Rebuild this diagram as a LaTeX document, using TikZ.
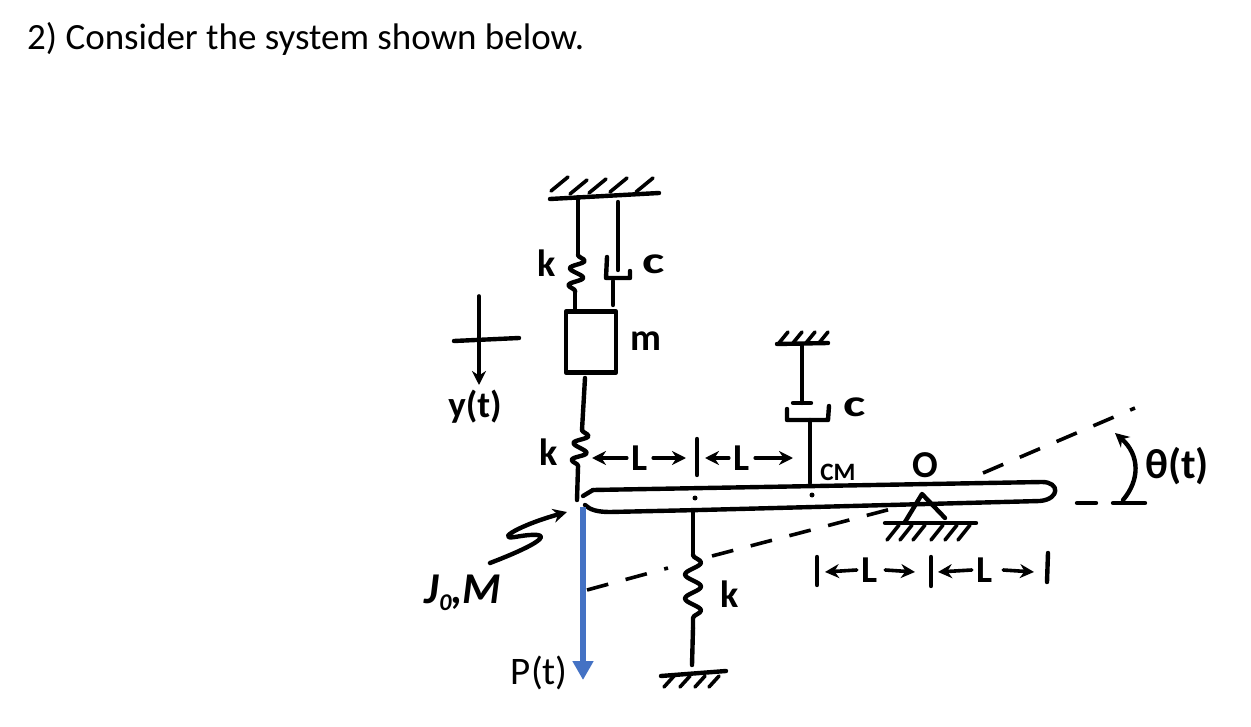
\documentclass[tikz,border=0pt]{standalone}
\usepackage{fontspec}
\setmainfont{Carlito}
\usetikzlibrary{arrows.meta, decorations.pathmorphing}
\definecolor{forceblue}{HTML}{4472C4}
\tikzstyle{wire} = [line width=4.4pt, line cap=round, line join=round, black]
\tikzstyle{thin wire} = [line width=3.6pt, line cap=round, line join=round, black]
\tikzstyle{spring} = [wire, decorate, decoration={snake, segment length=17pt, amplitude=7pt}]
\tikzstyle{long spring} = [wire, decorate, decoration={snake, segment length=24pt, amplitude=8pt}]
\tikzstyle{arrow} = [thin wire, -{Stealth[length=14pt, width=14pt]}]
\tikzstyle{dash line} = [thin wire, line cap=butt, dash pattern=on 22pt off 18pt]
\tikzstyle{force} = [line width=6pt, forceblue, -{Triangle[length=19pt, width=20pt]}]
\tikzstyle{hand} = [inner sep=0pt, font=\fontsize{38}{38}\selectfont\bfseries]
\tikzstyle{wide hand} = [hand, xscale=1.4]
\tikzstyle{small hand} = [inner sep=0pt, font=\fontsize{25}{25}\selectfont\bfseries]

\begin{document}
\begin{tikzpicture}[x=1pt, y=-1pt]
		\useasboundingbox (0,0) rectangle (1251,727);
		\node [inner sep=0pt, anchor=west, font=\fontsize{37}{37}\selectfont] (title) at (27,39) {2) Consider the system shown below.};
		
		% upper mass with spring and damper
		\coordinate (wallA1) at (550,199);
		\coordinate (wallA2) at (659,193);
		\draw [wire] (wallA1)--(wallA2);
		\foreach \x/\y in {551/191, 570/194, 589/193, 610/192, 636/192}
			\draw [thin wire] (\x,\y)--++(17,-14);
		\node [draw, wire, inner sep=0pt, minimum width=50pt, minimum height=61pt] (mass) at (591,342) {};
		\coordinate (springA1) at (578,197);
		\coordinate (springA2) at (578,255);
		\coordinate (springA3) at (575,292);
		\coordinate (springA4) at (575,311);
		\draw [wire] (springA1)--(springA2);
		\draw [spring] (springA2)--(springA3);
		\draw [wire] (springA3)--(springA4);
		\coordinate (rodA1) at (618,202);
		\coordinate (rodA2) at (618,270);
		\coordinate (rodA3) at (613,281);
		\coordinate (rodA4) at (613,305);
		\draw [wire] (rodA1)--(rodA2);
		\draw [wire] (607,257)--(606,278)--(630,278)--(630,271);
		\draw [wire] (rodA3)--(rodA4);
		\node [hand] (kA) at (547,263) {k};
		\node [wide hand] (cA) at (654,264) {c};
		\node [hand] (mA) at (646,341) {m};
		
		% y(t) sign
		\coordinate (yTop) at (479,296);
		\coordinate (yEnd) at (479,385);
		\draw [wire] (454,341)--(519,338);
		\draw [arrow] (yTop)--(yEnd);
		\node [hand, font=\fontsize{37}{37}\selectfont\bfseries] (yLabel) at (475,407) {y(t)};
		
		% spring between mass and beam
		\coordinate (springB1) at (585,378);
		\coordinate (springB2) at (582,430);
		\coordinate (springB3) at (578,467);
		\coordinate (springB4) at (577,500);
		\draw [wire] (springB1)--(springB2);
		\draw [spring] (springB2)--(springB3);
		\draw [wire] (springB3)--(springB4);
		\node [hand] (kB) at (549,452) {k};
		
		% beam
		\coordinate (beamA) at (593,490);
		\coordinate (beamB) at (1042,482);
		\coordinate (beamC) at (1040,501);
		\coordinate (beamD) at (585,505);
		\draw [wire] (beamA)--(beamB) .. controls (1060,482) and (1060,499) .. (beamC)
			-- (700,510) -- (610,512) .. controls (598,512) and (590,510) .. (beamD);
		\draw [wire] (beamA)--(583,496);
		\fill (695,498) circle (2.5pt);
		\fill (812,495) circle (2.5pt);
		
		% load
		\coordinate (loadA) at (583,507);
		\coordinate (loadB) at (583,680);
		\draw [force] (loadA)--(loadB);
		\node [inner sep=0pt, anchor=east, font=\fontsize{39}{39}\selectfont] (loadLabel) at (568,673) {P(t)};
		
		% inertia label
		\node [hand, font=\fontsize{44}{44}\selectfont\bfseries\itshape] (inertia) at (463,593) {J\raisebox{-7pt}{\fontsize{24}{24}\selectfont 0},M};
		\coordinate (curlA) at (490,563);
		\coordinate (curlB) at (567,512);
		\draw [arrow, line width=4.4pt] (curlA) .. controls (550,540) and (555,530) .. (515,537) .. controls (495,540) and (520,525) .. (curlB);
		
		% lower spring
		\coordinate (springC1) at (693,512);
		\coordinate (springC2) at (693,555);
		\coordinate (springC3) at (693,628);
		\coordinate (springC4) at (692,665);
		\draw [wire] (springC1)--(springC2);
		\draw [long spring] (springC2)--(springC3);
		\draw [wire] (springC3)--(springC4);
		\node [hand] (kC) at (730,594) {k};
		\coordinate (groundA1) at (661,676);
		\coordinate (groundA2) at (726,671);
		\draw [wire] (groundA1)--(groundA2);
		\foreach \x in {664, 680, 695, 709}
			\draw [thin wire] (\x,687)--++(10,-11);
		
		% damper on beam
		\coordinate (wallB1) at (777,344);
		\coordinate (wallB2) at (828,343);
		\draw [wire] (wallB1)--(wallB2);
		\foreach \x in {779, 793, 806, 819}
			\draw [thin wire] (\x,343)--++(9,-11);
		\coordinate (rodB1) at (802,345);
		\coordinate (rodB2) at (802,403);
		\coordinate (rodB3) at (810,420);
		\coordinate (rodB4) at (810,483);
		\draw [wire] (rodB1)--(rodB2);
		\draw [wire] (793,403)--(811,403);
		\draw [wire] (787,409)--(787,420)--(828,420)--(829,406);
		\draw [wire] (rodB3)--(rodB4);
		\node [wide hand] (cB) at (855,407) {c};
		\node [small hand] (cmLabel) at (838,472) {CM};
		
		% pivot
		\coordinate (pivotA) at (922,494);
		\coordinate (pivotB) at (905,522);
		\coordinate (pivotC) at (945,518);
		\draw [wire] (pivotB)--(pivotA)--(pivotC);
		\coordinate (groundB1) at (885,523);
		\coordinate (groundB2) at (976,523);
		\draw [wire] (groundB1)--(groundB2);
		\foreach \x in {887, 900, 913, 931, 945, 958}
			\draw [thin wire] (\x,540)--++(12,-15);
		\node [hand] (pivotLabel) at (925,465) {O};
		
		% dashed rotated beam and reference line
		\coordinate (dashA) at (587,590);
		\coordinate (dashA2) at (668,568);
		\coordinate (dashA3) at (712,556);
		\coordinate (dashB) at (895,508);
		\coordinate (dashC) at (983,473);
		\coordinate (dashD) at (1135,408);
		\coordinate (dashE) at (1077,503);
		\coordinate (dashF) at (1145,503);
		\draw [dash line] (dashA)--(dashA2);
		\draw [dash line] (dashA3)--(dashB);
		\draw [dash line] (dashC)--(dashD);
		\draw [wire] (dashE)--(1096,503);
		\draw [wire] (1113,503)--(dashF);
		
		% angle
		\coordinate (angleA) at (1123,500);
		\coordinate (angleB) at (1115,433);
		\draw [arrow, line width=4.4pt] (angleA) .. controls (1140,480) and (1140,455) .. (angleB);
		\node [hand, anchor=west, font=\fontsize{42}{42}\selectfont\bfseries] (angleLabel) at (1145,466) {θ(t)};
		
		% dimensions above beam
		\coordinate (dimA) at (592,458);
		\coordinate (dimB) at (686,458);
		\coordinate (dimC) at (705,458);
		\coordinate (dimD) at (793,458);
		\node [hand] (lenA) at (640,458) {L};
		\node [hand] (lenB) at (742,458) {L};
		\draw [arrow] (lenA.west)+(-5,0)--(dimA);
		\draw [arrow] (lenA.east)+(5,0)--(dimB);
		\draw [arrow] (lenB.west)+(-5,0)--(dimC);
		\draw [arrow] (lenB.east)+(5,0)--(dimD);
		\draw [wire] (697,439)--(697,475);
		
		% dimensions below beam
		\coordinate (dimE) at (825,572);
		\coordinate (dimF) at (915,572);
		\coordinate (dimG) at (938,572);
		\coordinate (dimH) at (1034,572);
		\node [hand] (lenC) at (870,570) {L};
		\node [hand] (lenD) at (985,570) {L};
		\draw [arrow] (lenC.west)+(-5,0)--(dimE);
		\draw [arrow] (lenC.east)+(7,0)--(dimF);
		\draw [arrow] (lenD.west)+(-5,0)--(dimG);
		\draw [arrow] (lenD.east)+(10,0)--(dimH);
		\draw [wire] (817,557)--(817,585);
		\draw [wire] (931,557)--(931,586);
		\draw [wire] (1048,553)--(1047,582);
	\end{tikzpicture}
\end{document}
